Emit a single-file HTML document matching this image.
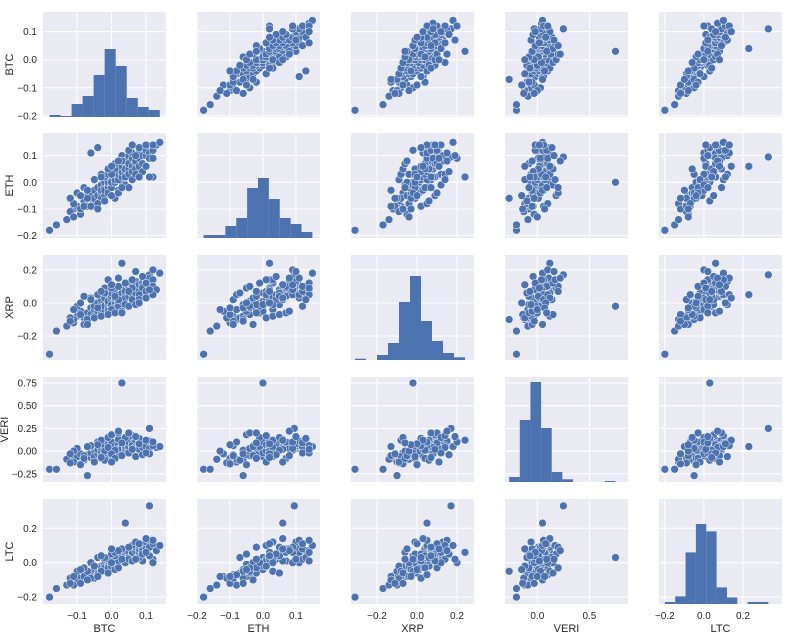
<!DOCTYPE html>
<html><head><meta charset="utf-8"><style>
body{margin:0;background:#fff;}
svg{display:block;font-family:"Liberation Sans",sans-serif;}
</style></head><body>
<svg id="chart" width="800" height="635" xmlns="http://www.w3.org/2000/svg"></svg>
<script>
const variables = ["BTC","ETH","XRP","VERI","LTC"];
// observations: [BTC, ETH, XRP, VERI, LTC]
const returns = [
[-0.18,-0.18,-0.31,-0.20,-0.20],[-0.16,-0.16,-0.17,-0.20,-0.15],[0.11,0.095,0.17,0.25,0.33],[0.03,0.00,-0.02,0.75,0.03],[0.04,0.06,0.05,0.05,0.23],
[-0.11,-0.10,-0.12,-0.08,-0.09],[-0.10,-0.09,-0.08,-0.06,-0.10],[-0.11,-0.08,-0.10,-0.12,-0.13],[-0.09,-0.12,-0.05,-0.03,-0.08],[-0.08,-0.07,-0.09,-0.10,-0.06],
[-0.07,-0.05,-0.06,-0.05,-0.08],[-0.07,-0.09,-0.11,-0.04,-0.07],[-0.06,-0.06,-0.03,-0.07,-0.05],[-0.06,-0.04,-0.07,-0.02,-0.06],[-0.05,-0.08,-0.04,-0.09,-0.07],
[-0.05,-0.03,-0.02,0.01,-0.04],[-0.05,-0.06,-0.08,-0.06,-0.09],[-0.04,-0.05,-0.05,-0.03,-0.03],[-0.04,-0.02,0.00,0.02,-0.06],[-0.04,0.13,0.05,0.10,0.03],
[-0.06,0.11,0.03,0.05,0.00],[-0.03,-0.04,-0.03,-0.05,-0.05],[-0.03,-0.01,-0.06,0.00,-0.02],[-0.03,-0.06,-0.01,-0.08,-0.04],[-0.03,-0.03,0.02,0.04,-0.03],
[-0.02,-0.02,-0.04,-0.01,-0.02],[-0.02,0.00,0.01,0.03,-0.04],[-0.02,-0.05,-0.02,-0.04,-0.01],[-0.02,-0.03,0.03,0.06,-0.03],[-0.01,-0.01,-0.03,-0.02,0.00],
[-0.01,0.01,0.00,0.01,-0.02],[-0.01,-0.02,0.05,0.08,-0.01],[-0.01,0.00,-0.05,-0.06,0.01],[-0.01,-0.04,0.01,0.00,-0.03],[0.00,0.01,0.02,-0.03,0.01],
[0.00,-0.01,-0.02,0.05,-0.01],[0.00,0.02,0.04,0.02,0.02],[0.00,-0.02,-0.01,-0.04,0.00],[0.00,0.00,0.06,0.10,-0.02],[0.01,0.02,0.01,0.03,0.01],
[0.01,0.00,-0.01,-0.02,0.03],[0.01,0.03,0.03,0.06,0.00],[0.01,-0.06,-0.03,0.01,-0.04],[0.01,0.01,0.07,0.00,0.02],[0.02,0.02,0.02,0.04,0.02],
[0.02,0.04,0.00,-0.01,0.03],[0.02,0.01,0.05,0.07,0.01],[0.02,0.03,-0.02,0.02,0.04],[0.02,-0.03,0.03,-0.05,0.00],[0.03,0.03,0.04,0.05,0.03],
[0.03,0.05,0.08,0.11,0.05],[0.03,0.02,0.24,0.12,0.06],[0.03,0.04,0.01,0.00,0.02],[0.03,0.10,0.06,0.03,0.04],[0.04,0.04,0.05,0.08,0.04],
[0.04,0.06,0.03,0.02,0.06],[0.04,0.02,0.09,0.04,0.02],[0.04,0.05,-0.01,0.06,0.05],[0.04,0.08,0.07,0.09,0.07],[0.05,0.05,0.06,0.03,0.04],
[0.05,0.07,0.04,0.07,0.08],[0.05,0.10,0.10,0.05,0.06],[0.05,0.03,0.12,0.10,0.03],[0.06,0.06,0.08,0.04,0.07],[0.06,0.09,0.05,0.01,0.09],
[0.06,0.04,0.02,0.08,0.05],[0.06,0.11,0.11,0.06,0.06],[0.07,0.07,0.09,0.05,0.08],[0.07,0.08,0.13,0.03,0.07],[0.07,0.05,0.06,0.12,0.09],
[0.08,0.09,0.08,0.07,0.06],[0.08,0.06,0.11,0.02,0.08],[0.08,0.11,0.05,0.09,0.10],[0.09,0.10,0.12,0.06,0.09],[0.09,0.07,0.10,0.10,0.01],
[0.09,0.13,0.09,0.04,0.07],[0.10,0.10,0.13,0.08,0.12],[0.10,0.12,0.07,0.05,0.08],[0.11,0.11,0.15,0.11,0.13],[0.11,0.09,0.11,0.03,0.09],
[0.12,0.02,0.14,0.06,0.02],[0.12,0.12,0.10,0.09,0.11],[0.13,0.14,0.08,0.04,0.07],[0.14,0.15,0.18,0.05,0.10],[0.12,0.14,0.05,0.06,0.13],
[-0.13,-0.14,-0.14,-0.09,-0.13],[-0.12,-0.11,-0.09,-0.13,-0.09],[-0.09,-0.10,-0.07,-0.14,-0.12],[-0.08,-0.09,-0.13,-0.05,-0.08],[-0.07,-0.06,-0.10,-0.27,-0.05],
[-0.02,0.02,0.09,0.00,0.02],[0.02,0.06,0.02,0.13,0.01],[-0.01,0.03,0.14,0.04,0.02],[0.01,0.05,0.04,0.01,0.04],[0.00,0.03,-0.04,-0.03,0.00],
[-0.10,-0.04,-0.02,0.03,-0.05],[-0.08,-0.02,0.04,-0.08,-0.03],[-0.06,-0.09,0.02,0.06,-0.09],[-0.05,0.01,-0.09,-0.12,-0.02],[-0.04,-0.08,0.05,0.10,-0.07],
[-0.03,0.03,-0.08,0.12,-0.05],[-0.02,-0.07,0.06,-0.10,0.03],[-0.01,0.05,-0.07,0.15,-0.06],[0.00,-0.05,0.09,0.18,0.05],[0.01,0.07,-0.06,-0.08,0.06],
[0.02,-0.04,0.10,0.20,-0.03],[0.03,0.08,-0.05,-0.05,0.08],[0.04,-0.01,0.12,0.15,0.00],[0.05,0.12,-0.02,-0.02,0.02],[0.06,0.01,0.14,0.17,0.10],
[0.07,0.03,-0.01,-0.06,0.12],[0.08,0.13,0.02,0.14,0.03],[0.09,0.04,0.16,-0.04,0.05],[0.10,0.06,0.03,0.12,0.14],[0.11,0.02,0.08,-0.03,0.04],
[0.12,0.09,0.20,0.10,0.00],[0.10,0.14,0.12,-0.02,0.06],[0.08,0.02,0.00,0.08,0.11],[0.06,0.14,0.09,0.02,0.01],[0.05,-0.02,0.07,0.20,0.09],
[-0.07,-0.03,-0.13,0.05,-0.10],[-0.09,-0.05,0.00,-0.15,-0.04],[-0.11,-0.13,-0.04,0.00,-0.08],[-0.12,-0.06,-0.11,-0.03,-0.12],[-0.04,-0.10,-0.03,0.07,-0.08],
[0.02,0.08,0.15,0.22,0.07],[0.00,0.06,0.11,-0.12,0.08],[0.03,-0.02,-0.06,0.09,0.02],[-0.03,0.02,0.07,-0.07,0.04],[0.07,0.10,0.19,0.16,0.02]
];
const histBTC = [2,1,13,21,42,68,51,19,10,7];
const histETH = [3,3,12,20,50,60,39,20,14,6];
const histXRP = [1.3,0,5,17,58,84,39,19,7,2.7];
const histVERI = [5,62,100,54,10,2.7,0,0,0,1];
const histLTC = [2,7.6,51.6,80,72.6,16.6,6.6,0,2,2];
const hists = [histBTC,histETH,histXRP,histVERI,histLTC];
const xTicks = [[-0.1,0,0.1],[-0.2,-0.1,0,0.1],[-0.2,0,0.2],[0,0.5],[-0.2,0,0.2]];
const yTicks = [[-0.2,-0.1,0,0.1],[-0.2,-0.1,0,0.1],[-0.2,0,0.2],[-0.25,0,0.25,0.5,0.75],[-0.2,0,0.2]];
const xTickLabels = [["−0.1","0.0","0.1"],["−0.2","−0.1","0.0","0.1"],["−0.2","0.0","0.2"],["0.0","0.5"],["−0.2","0.0","0.2"]];
const yTickLabels = [["−0.2","−0.1","0.0","0.1"],["−0.2","−0.1","0.0","0.1"],["−0.2","0.0","0.2"],["−0.25","0.00","0.25","0.50","0.75"],["−0.2","0.0","0.2"]];
const xDomain = [[-0.199,0.158],[-0.2,0.173],[-0.33,0.285],[-0.31,0.87],[-0.23,0.40]];
const yDomain = [[-0.204,0.170],[-0.209,0.185],[-0.345,0.29],[-0.34,0.816],[-0.24,0.37]];

const svg = document.getElementById('chart');
const NS = "http://www.w3.org/2000/svg";
const colL=[43,197,351,505,659], rowT=[12,133,255,377,499], W=123, H=105;
function mk(tag, attrs, parent){const e=document.createElementNS(NS,tag);for(const k in attrs)e.setAttribute(k,attrs[k]);(parent||svg).appendChild(e);return e;}
function sx(j,v){const d=xDomain[j];return colL[j]+(v-d[0])/(d[1]-d[0])*W;}
function sy(i,v){const d=yDomain[i];return rowT[i]+H-(v-d[0])/(d[1]-d[0])*H;}

for(let i=0;i<5;i++){for(let j=0;j<5;j++){
  const g=mk('g',{});
  
  
  mk('rect',{x:colL[j],y:rowT[i],width:W,height:H,fill:'#EAEAF2'},g);
  xTicks[j].forEach(t=>{const x=sx(j,t);mk('line',{x1:x,x2:x,y1:rowT[i],y2:rowT[i]+H,stroke:'#fff','stroke-width':1},g);});
  yTicks[i].forEach(t=>{const y=sy(i,t);mk('line',{x1:colL[j],x2:colL[j]+W,y1:y,y2:y,stroke:'#fff','stroke-width':1},g);});
  if(i===j){
    const col=returns.map(r=>r[i]);const lo=Math.min(...col),hi=Math.max(...col);
    const cnt=hists[i];const bw=(hi-lo)/cnt.length;
    cnt.forEach((c,k)=>{if(c<=0)return;const x0=sx(j,lo+k*bw),x1=sx(j,lo+(k+1)*bw);const h=c/105*H;
      const b=mk('rect',{x:x0,y:rowT[i]+H-h,width:x1-x0,height:h,fill:'#4C72B0'},g);
      
      });
  } else {
    returns.forEach(r=>{const c=mk('circle',{cx:sx(j,r[j]),cy:sy(i,r[i]),r:3.9,fill:'#4C72B0',stroke:'#fff','stroke-width':0.5},g);
      
      });
  }
}}
for(let j=0;j<5;j++){
  xTicks[j].forEach((t,k)=>{const e=mk('text',{x:sx(j,t),y:619,'text-anchor':'middle','font-size':10,fill:'#262626'});e.textContent=xTickLabels[j][k];
    
    });
  const n=mk('text',{x:colL[j]+W/2,y:632,'text-anchor':'middle','font-size':11,fill:'#262626'});n.textContent=variables[j];
  
  
}
for(let i=0;i<5;i++){
  yTicks[i].forEach((t,k)=>{const e=mk('text',{x:37,y:sy(i,t)+3.5,'text-anchor':'end','font-size':10,fill:'#262626'});e.textContent=yTickLabels[i][k];
    
    });
  const cy=rowT[i]+H/2, cx=i===3?8:13;
  const n=mk('text',{x:cx,y:cy,'text-anchor':'middle','font-size':11,fill:'#262626',transform:`rotate(-90 ${cx} ${cy})`});n.textContent=variables[i];
  
  
}
</script>
</body></html>
